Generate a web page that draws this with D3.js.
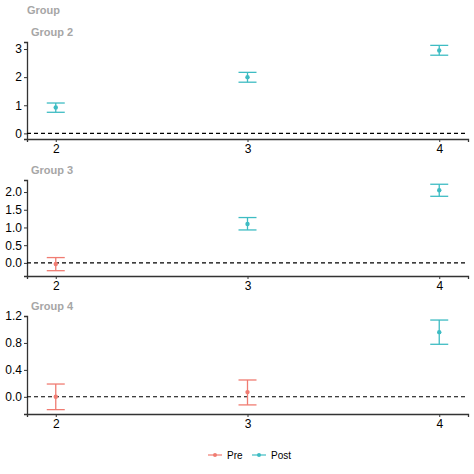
<!DOCTYPE html>
<html>
<head>
<meta charset="utf-8">
<script src="https://cdn.jsdelivr.net/npm/d3@7"></script>
<style>
  body { margin: 0; background: #fff; }
  text { font-family: "Liberation Sans", Arial, sans-serif; }
</style>
</head>
<body>
<svg id="chart" width="474" height="474"></svg>
<script>
// x categories shared by every panel
const times = [2, 3, 4];
const panelNames = ['Group 2', 'Group 3', 'Group 4'];
const yDomains = [[-0.2, 3.25], [-0.37, 2.34], [-0.255, 1.2]];
const yTicks = [[0, 1, 2, 3], [0, 0.5, 1, 1.5, 2], [0, 0.4, 0.8, 1.2]];
// phase, estimate, lower, upper per panel
const group2 = [
  { time: 2, phase: 'Post', est: 0.92, lo: 0.75, hi: 1.08 },
  { time: 3, phase: 'Post', est: 2.0, lo: 1.82, hi: 2.17 },
  { time: 4, phase: 'Post', est: 2.95, lo: 2.78, hi: 3.13 }
];
const group3 = [
  { time: 2, phase: 'Pre', est: -0.03, lo: -0.22, hi: 0.15 },
  { time: 3, phase: 'Post', est: 1.1, lo: 0.93, hi: 1.28 },
  { time: 4, phase: 'Post', est: 2.05, lo: 1.88, hi: 2.22 }
];
const group4 = [
  { time: 2, phase: 'Pre', est: 0.0, lo: -0.19, hi: 0.19 },
  { time: 3, phase: 'Pre', est: 0.07, lo: -0.12, hi: 0.25 },
  { time: 4, phase: 'Post', est: 0.96, lo: 0.78, hi: 1.14 }
];
const panelData = [group2, group3, group4];
const phases = ['Pre', 'Post'];

const colour = d3.scaleOrdinal().domain(phases).range(['#F07C72', '#3EBCC3']);
const svg = d3.select('#chart');

const left = 27, right = 468;
const panelTops = [42, 180, 316];
const panelBottoms = [139, 276, 414];

const x = d3.scaleLinear().domain([1.85, 4.15]).range([left, right]);

svg.append('text').attr('x', 27).attr('y', 14)
  .attr('font-size', 11).attr('font-weight', 'bold').attr('fill', '#a6a6a6')
  .text('Group');

panelData.forEach(function (data, i) {
  const top = panelTops[i], bottom = panelBottoms[i];
  const y = d3.scaleLinear().domain(yDomains[i]).range([bottom, top]);
  const g = svg.append('g');

  g.append('text').attr('x', 31).attr('y', top - 6)
    .attr('font-size', 11).attr('font-weight', 'bold').attr('fill', '#a6a6a6')
    .text(panelNames[i]);

  const fmt = i === 0 ? d3.format('d') : d3.format('.1f');
  const yAxis = g.append('g').attr('transform', `translate(${left},0)`)
    .call(d3.axisLeft(y).tickValues(yTicks[i]).tickFormat(fmt).tickSize(3).tickPadding(2));
  const xAxis = g.append('g').attr('transform', `translate(0,${bottom})`)
    .call(d3.axisBottom(x).tickValues(times).tickFormat(d3.format('d')).tickSize(3).tickPadding(2));
  [xAxis, yAxis].forEach(function (a) {
    a.select('.domain').attr('stroke', '#333').attr('stroke-width', 1.3);
    a.selectAll('.tick line').attr('stroke', '#333');
    a.selectAll('.tick text').attr('font-size', 12).attr('fill', '#000');
  });

  g.append('line')
    .attr('x1', left).attr('x2', right)
    .attr('y1', y(0)).attr('y2', y(0))
    .attr('stroke', '#000').attr('stroke-width', 1.1).attr('stroke-dasharray', '4,3');

  const bars = g.selectAll('.err').data(data).join('g')
    .attr('stroke', d => colour(d.phase)).attr('stroke-width', 1.3);
  bars.append('line')
    .attr('x1', d => x(d.time)).attr('x2', d => x(d.time))
    .attr('y1', d => y(d.lo)).attr('y2', d => y(d.hi));
  bars.append('line')
    .attr('x1', d => x(d.time) - 9).attr('x2', d => x(d.time) + 9)
    .attr('y1', d => y(d.lo)).attr('y2', d => y(d.lo));
  bars.append('line')
    .attr('x1', d => x(d.time) - 9).attr('x2', d => x(d.time) + 9)
    .attr('y1', d => y(d.hi)).attr('y2', d => y(d.hi));
  g.selectAll('.pt').data(data).join('circle')
    .attr('cx', d => x(d.time)).attr('cy', d => y(d.est)).attr('r', 2.2)
    .attr('fill', d => colour(d.phase));
});

// legend
const legend = svg.append('g').attr('transform', 'translate(208,455)');
phases.forEach(function (p, i) {
  const lg = legend.append('g').attr('transform', `translate(${i * 44},0)`);
  lg.append('line').attr('x1', 0).attr('x2', 14).attr('stroke', colour(p)).attr('stroke-width', 1.2);
  lg.append('circle').attr('cx', 7).attr('r', 2).attr('fill', colour(p));
  lg.append('text').attr('x', 19).attr('y', 3.5).attr('font-size', 10).text(p);
});
</script>
</body>
</html>
